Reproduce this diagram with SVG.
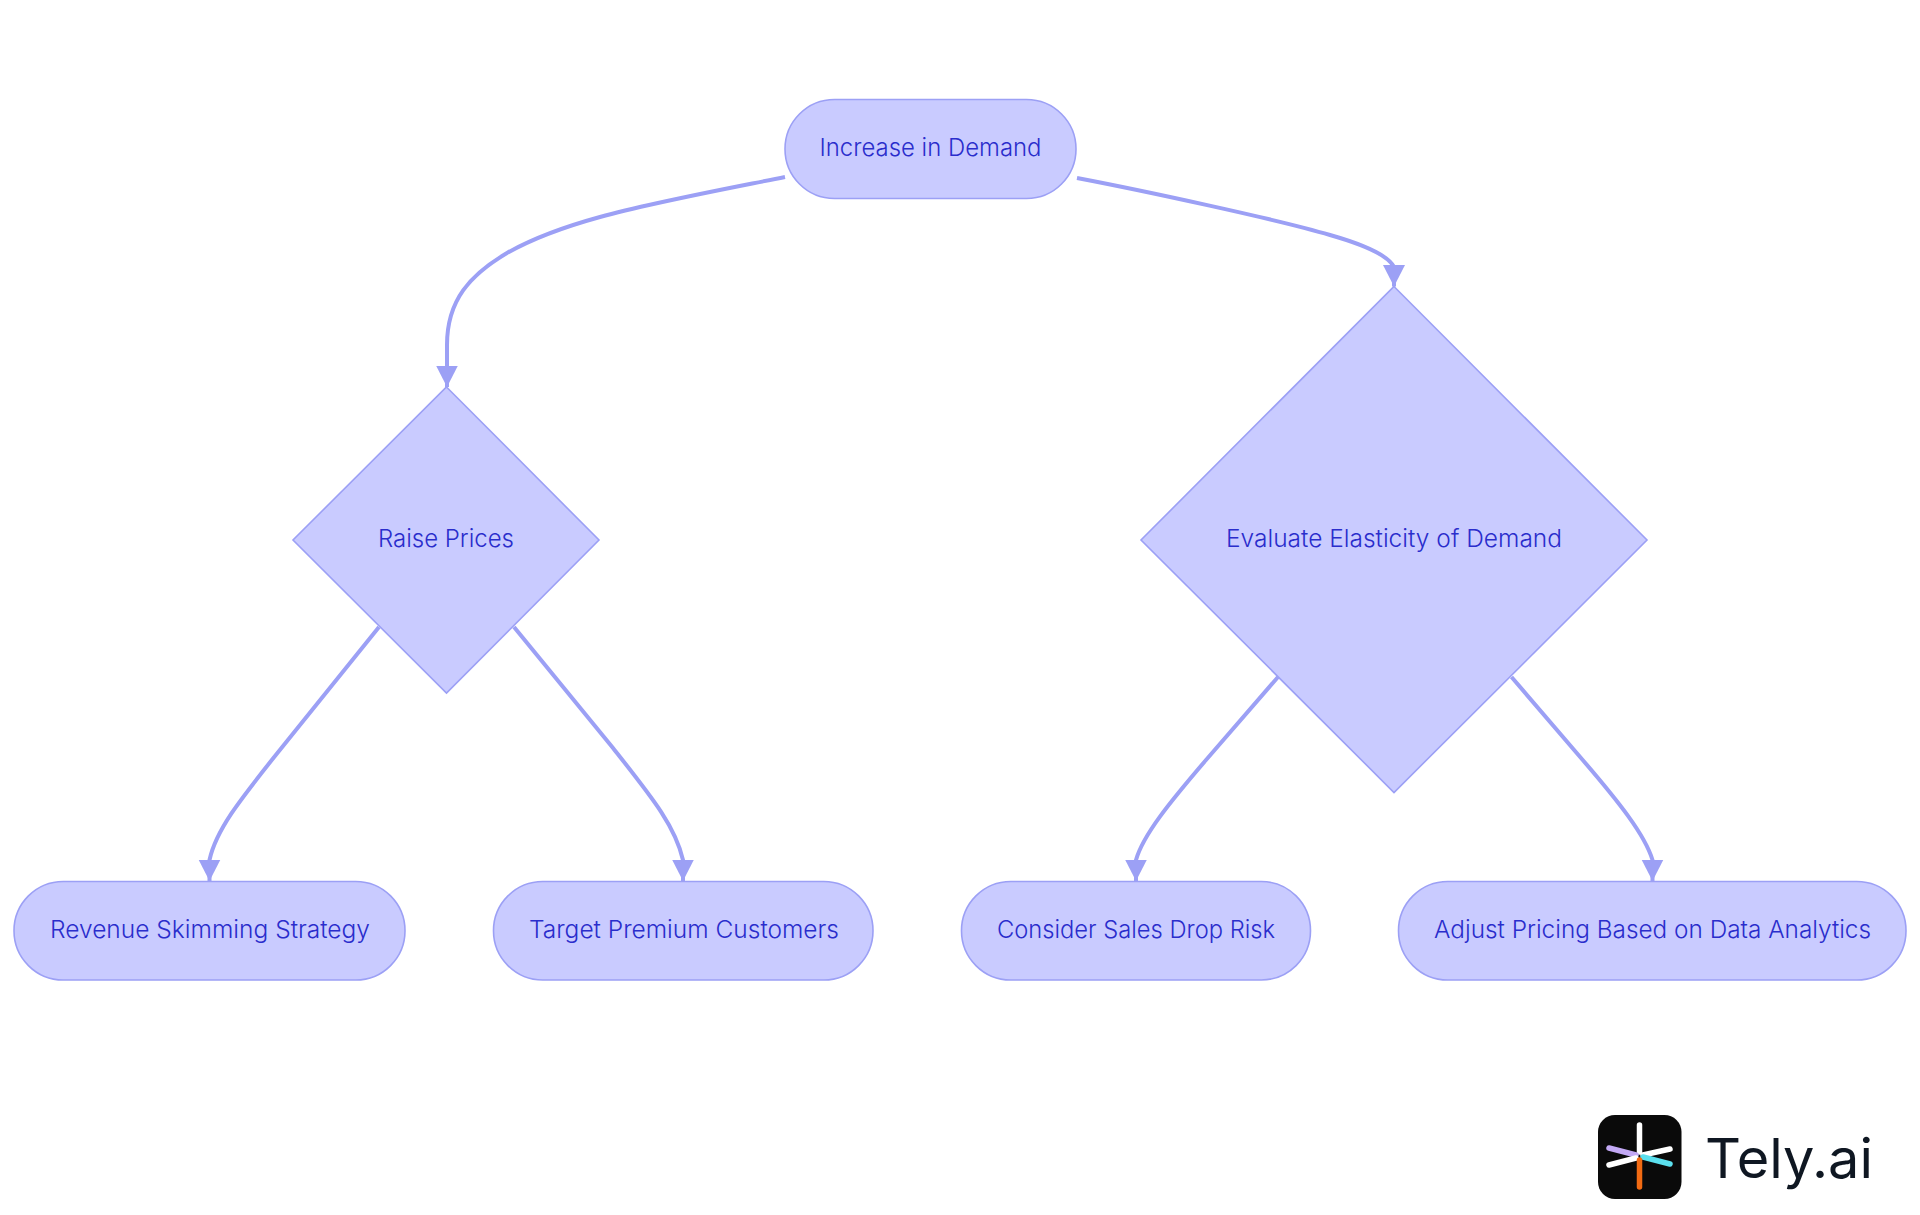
<svg xmlns="http://www.w3.org/2000/svg" width="1920" height="1215" viewBox="0 0 1920 1215">
<style>
.n{fill:#c9cbff;stroke:#9ca0f5;stroke-width:1.6}
.t{font-family:Inter,"Noto Sans","Liberation Sans",sans-serif;font-size:24px;font-weight:300;fill:#2a2dcc;text-anchor:middle}
.c{fill:none;stroke:#9ca0f5;stroke-width:4;marker-end:url(#a)}
.r{stroke-width:5.5;stroke-linecap:round;fill:none}
</style>
<defs><marker id="a" markerUnits="userSpaceOnUse" markerWidth="23" markerHeight="23" refX="21.500" refY="11.500" orient="auto"><path d="M0,0.500L21.500,11.500L0,22.500Z" fill="#9ca0f5"/></marker></defs>
<rect width="1920" height="1215" fill="#fff"/>
<g id="connectors">
<path class="c" d="M785,177C720,190 650,203 600,217C560,228 530,240 507,253C470,275 447,300 447,345L447,387"/>
<path class="c" d="M1077,178C1140,190 1280,220 1330,235C1365,245 1388,255 1394,267L1394,286.500"/>
<path class="c" d="M379,627L275,756C240,800 216,830 209.500,860L209.500,881"/>
<path class="c" d="M514,627L613,748C650,795 675,825 683,860L683,881"/>
<path class="c" d="M1278,677L1206,760C1170,802 1143,835 1136,860L1136,881"/>
<path class="c" d="M1511.500,677L1581,758C1619,802 1645,835 1652.500,860L1652.500,881"/>
</g>
<g id="n-demand"><rect class="n" x="785" y="99.500" width="291" height="99" rx="49.500"/><text class="t" x="930.500" y="156" textLength="222" lengthAdjust="spacingAndGlyphs">Increase in Demand</text></g>
<g id="n-raise"><path class="n" d="M446.500,387L599,540L446.500,693L293,540Z"/><text class="t" x="446" y="547" textLength="136" lengthAdjust="spacingAndGlyphs">Raise Prices</text></g>
<g id="n-evaluate"><path class="n" d="M1394,286.500L1647,540L1394,792.500L1141,540Z"/><text class="t" x="1394" y="547" textLength="336" lengthAdjust="spacingAndGlyphs">Evaluate Elasticity of Demand</text></g>
<g id="n-revenue"><rect class="n" x="14" y="881.500" width="391" height="98.500" rx="49.250"/><text class="t" x="210" y="938" textLength="320" lengthAdjust="spacingAndGlyphs">Revenue Skimming Strategy</text></g>
<g id="n-target"><rect class="n" x="493.500" y="881.500" width="379.500" height="98.500" rx="49.250"/><text class="t" x="684" y="938" textLength="310" lengthAdjust="spacingAndGlyphs">Target Premium Customers</text></g>
<g id="n-consider"><rect class="n" x="961.500" y="881.500" width="349" height="98.500" rx="49.250"/><text class="t" x="1136" y="938" textLength="278" lengthAdjust="spacingAndGlyphs">Consider Sales Drop Risk</text></g>
<g id="n-adjust"><rect class="n" x="1398.500" y="881.500" width="507.500" height="98.500" rx="49.250"/><text class="t" x="1652.500" y="938" textLength="437" lengthAdjust="spacingAndGlyphs">Adjust Pricing Based on Data Analytics</text></g>
<g id="logo">
<rect x="1598" y="1115" width="83.500" height="84" rx="17" fill="#0a0a0a"/>
<path class="r" d="M1639.500,1152V1125" stroke="#fff"/>
<path class="r" d="M1636,1155L1609,1148" stroke="#c3a9f5"/>
<path class="r" d="M1636,1158L1609,1165" stroke="#fff"/>
<path class="r" d="M1643,1155L1670,1149" stroke="#fff"/>
<path class="r" d="M1643,1157L1670,1164" stroke="#5be0ee"/>
<path class="r" d="M1639.500,1160V1187" stroke="#f26a12"/>
<text x="1705" y="1178" font-family="Inter,'Noto Sans',sans-serif" font-size="55" fill="#0f1722" textLength="168" lengthAdjust="spacingAndGlyphs">Tely.ai</text>
</g>
</svg>
